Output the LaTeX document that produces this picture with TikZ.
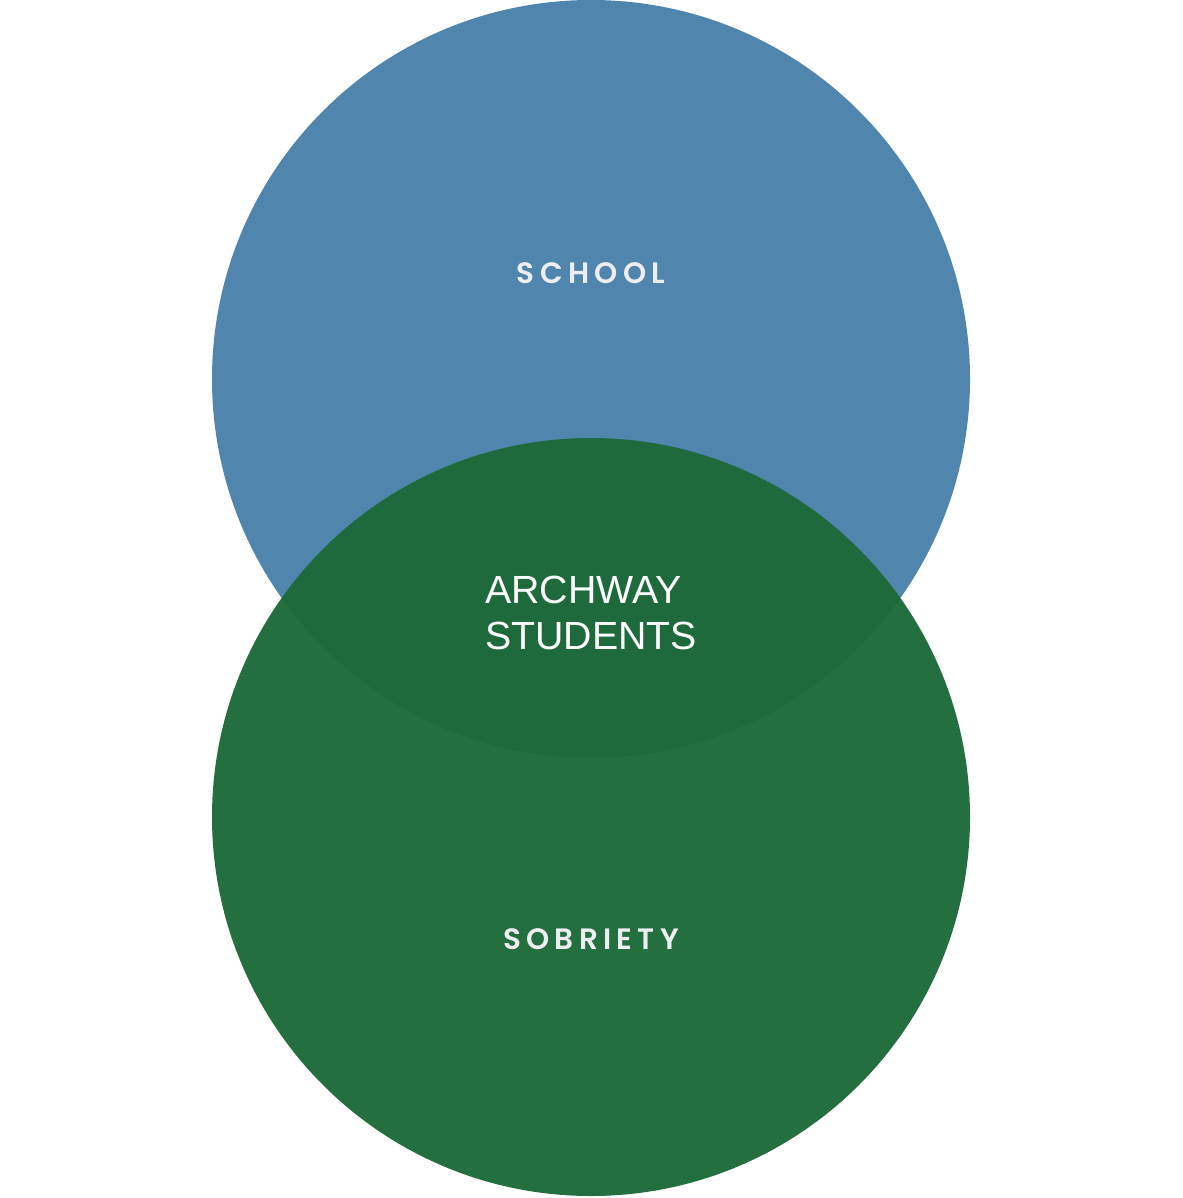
\documentclass[tikz,border=0pt]{standalone}
\usepackage{fontspec}
\setmainfont{Liberation Sans}
\newfontfamily\vennfont[LetterSpace=18, BoldFont={Poppins SemiBold}]{Poppins}
\definecolor{schoolblue}{RGB}{80,133,173}
\definecolor{sobrietygreen}{RGB}{29,106,57}
\definecolor{labelgray}{RGB}{238,238,242}
\tikzset{
  setlabel/.style={text=labelgray, font=\vennfont\bfseries\fontsize{29.5}{32}\selectfont},
  midlabel/.style={text=white, align=left, font=\fontsize{39.3}{46}\selectfont}
}

\begin{document}
\begin{tikzpicture}[x=1pt, y=-1pt]
  \useasboundingbox (0, 0) rectangle (1182, 1198);
  \fill[schoolblue] (591, 379) circle (379);
  \fill[sobrietygreen, opacity=.97] (591, 817) circle (379);
  \node[setlabel] (school) at (591, 273) {SCHOOL};
  \node[setlabel] (sobriety) at (591, 939) {SOBRIETY};
  \node[midlabel] (archway) at (591, 613) {ARCHWAY\\STUDENTS};
\end{tikzpicture}
\end{document}
